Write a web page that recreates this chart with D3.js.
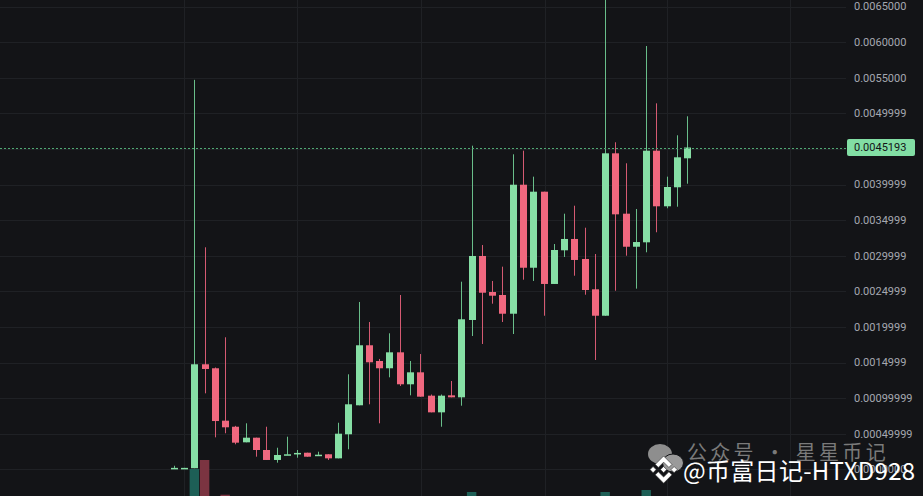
<!DOCTYPE html>
<html><head><meta charset="utf-8">
<script src="https://cdn.jsdelivr.net/npm/d3@7"></script>
<style>
html,body{margin:0;padding:0;background:#131417;overflow:hidden}
svg{display:block}
</style></head><body>
<svg id="c" width="923" height="496"></svg>
<script>
// ---- data ----
const categories = ["1","2","3","4","5","6","7","8","9","10","11","12","13","14","15","16","17","18","19","20","21","22","23","24","25","26","27","28","29","30","31","32","33","34","35","36","37","38","39","40","41","42","43","44","45","46","47","48","49","50","51"];
const open  = [0.000015,0.000018,0.000015,0.001475,0.001419,0.000683,0.000598,0.000379,0.000444,0.000271,0.000131,0.000205,0.00022,0.000233,0.000201,0.000211,0.000154,0.000492,0.000899,0.001742,0.001521,0.001419,0.001643,0.001194,0.001362,0.001034,0.0008,0.001039,0.001011,0.002097,0.002996,0.00249,0.002448,0.002185,0.003997,0.002831,0.003899,0.002603,0.003076,0.003235,0.002954,0.002528,0.002157,0.004438,0.00359,0.003126,0.003188,0.004475,0.003694,0.003961,0.004368];
const high  = [0.00005,0.00002,0.00547,0.003118,0.00143,0.001854,0.00061,0.000646,0.000444,0.000598,0.000303,0.000458,0.000271,0.000233,0.000247,0.000211,0.000654,0.001334,0.00235,0.002069,0.00155,0.00191,0.002448,0.001521,0.001619,0.00105,0.00105,0.00124,0.002635,0.004545,0.00315,0.002645,0.002846,0.004424,0.004475,0.00411,0.003899,0.003164,0.00359,0.003702,0.003393,0.003024,0.0068,0.004593,0.004298,0.003656,0.005945,0.00514,0.00411,0.004691,0.004958];
const low   = [0.000015,0.000018,0.000015,0.001067,0.000449,0.000506,0.000351,0.000379,0.000177,0.000131,0.000093,0.000205,0.000163,0.000177,0.000201,0.000131,0.000154,0.000281,0.000899,0.000913,0.000646,0.001292,0.00117,0.001039,0.00102,0.0008,0.000598,0.001011,0.000893,0.001872,0.00176,0.002326,0.002069,0.0019,0.002663,0.002645,0.002157,0.002603,0.002982,0.002719,0.002452,0.001535,0.002157,0.002508,0.003,0.002537,0.003048,0.003329,0.003666,0.003688,0.004011];
const close = [0.00002,0.00002,0.001475,0.001409,0.000678,0.00059,0.000374,0.000444,0.000271,0.000131,0.000201,0.000211,0.00023,0.000177,0.000205,0.000154,0.0005,0.000913,0.001742,0.001503,0.001419,0.001643,0.001194,0.001362,0.00102,0.0008,0.001034,0.001011,0.002107,0.002996,0.00248,0.002438,0.002185,0.003997,0.002831,0.003899,0.002603,0.00308,0.003235,0.00294,0.002518,0.002157,0.004438,0.003581,0.003126,0.003192,0.004475,0.003694,0.003965,0.004382,0.0045193];
const volume = [0,0,270,360,0,13,0,0,0,0,0,0,0,0,0,0,0,0,0,0,0,0,0,0,0,0,0,0,0,40,0,0,0,0,0,0,0,0,0,0,0,0,40,0,0,0,60,0,0,0,0];
const tickValues = [0,0.0005,0.001,0.0015,0.002,0.0025,0.003,0.0035,0.004,0.0045,0.005,0.0055,0.006,0.0065];
const tickLabels = ["0.0000000","0.00049999","0.00099999","0.0014999","0.0019999","0.0024999","0.0029999","0.0034999","0.0039999","0.0044999","0.0049999","0.0055000","0.0060000","0.0065000"];
const timeGridIdx = [1,12,24.1,36.1,48,60];
const lastPrice = 0.0045193;
const lastPriceLabel = "0.0045193";

// ---- layout ----
const W = 923, H = 496;
const plotRight = 846;
const svg = d3.select("#c");
const x = d3.scaleLinear().domain([0, categories.length - 1]).range([173.8, 687.3]);
const step = x(1) - x(0);
const y = d3.scaleLinear().domain([0, 0.0065]).range([469.3, 6.5]);
const yv = d3.scaleLinear().domain([0, 360]).range([H, 460]);

const up = "#86dfa5", down = "#f0687f";
const upWick = "#69be8a", downWick = "#d55a72";
const upVol = "#1d5f56", downVol = "#7b3441";
const grid = "#1f2125";

svg.append("rect").attr("width", W).attr("height", H).attr("fill", "#131417");

// grid
svg.append("g").selectAll("line").data(tickValues).join("line")
  .attr("x1", 0).attr("x2", plotRight)
  .attr("y1", d => Math.round(y(d)) + 0.5).attr("y2", d => Math.round(y(d)) + 0.5)
  .attr("stroke", grid).attr("stroke-width", 1);
svg.append("g").selectAll("line").data(timeGridIdx).join("line")
  .attr("x1", d => Math.round(x(d)) + 0.5).attr("x2", d => Math.round(x(d)) + 0.5)
  .attr("y1", 0).attr("y2", H)
  .attr("stroke", grid).attr("stroke-width", 1);

const data = categories.map((c, i) => ({c, i, o: open[i], h: high[i], l: low[i], cl: close[i], v: volume[i]}));

// volume
svg.append("g").selectAll("rect").data(data.filter(d => d.v > 0)).join("rect")
  .attr("x", d => x(d.i) - step * 0.46)
  .attr("width", step * 0.92)
  .attr("y", d => yv(d.v))
  .attr("height", d => H - yv(d.v))
  .attr("fill", d => d.cl >= d.o ? upVol : downVol);

// candles
const cg = svg.append("g");
cg.selectAll("line").data(data).join("line")
  .attr("x1", d => Math.round(x(d.i)) + 0.5).attr("x2", d => Math.round(x(d.i)) + 0.5)
  .attr("y1", d => y(d.h)).attr("y2", d => y(d.l))
  .attr("stroke", d => d.cl >= d.o ? upWick : downWick).attr("stroke-width", 1);
const bw = 7;
cg.selectAll("rect").data(data).join("rect")
  .attr("x", d => Math.round(x(d.i)) + 0.5 - bw / 2)
  .attr("width", bw)
  .attr("y", d => y(Math.max(d.o, d.cl)))
  .attr("height", d => Math.max(1.5, Math.abs(y(d.o) - y(d.cl))))
  .attr("fill", d => d.cl >= d.o ? up : down);

// last price line
svg.append("line")
  .attr("x1", 0).attr("x2", plotRight)
  .attr("y1", Math.round(y(lastPrice)) + 0.5).attr("y2", Math.round(y(lastPrice)) + 0.5)
  .attr("stroke", "#4fa873").attr("stroke-width", 1).attr("stroke-dasharray", "2,2");

// axis labels
svg.append("g").selectAll("text").data(tickValues).join("text")
  .attr("x", 854).attr("y", d => y(d))
  .attr("dy", "0.35em")
  .attr("font-family", "Roboto, 'Liberation Sans', sans-serif")
  .attr("font-size", 11)
  .attr("fill", "#a5a8b0")
  .text((d, i) => tickLabels[i]);

// last price label
svg.append("rect").attr("x", 847).attr("y", y(lastPrice) - 8.5).attr("width", 68).attr("height", 17)
  .attr("rx", 2).attr("fill", "#82dea4");
svg.append("text").attr("x", 854).attr("y", y(lastPrice)).attr("dy", "0.35em")
  .attr("font-family", "Roboto, 'Liberation Sans', sans-serif").attr("font-size", 11)
  .attr("fill", "#131417").text(lastPriceLabel);

// watermark
const wm = svg.append("g");
wm.append("ellipse").attr("cx", 660).attr("cy", 454).attr("rx", 12).attr("ry", 10).attr("fill", "#8e8e8e");
wm.append("ellipse").attr("cx", 673).attr("cy", 463).attr("rx", 10.5).attr("ry", 9).attr("fill", "#9a9a9a").attr("stroke", "#131417").attr("stroke-width", 1);
wm.append("text").attr("x", 687).attr("y", 460)
  .attr("font-family", "'Noto Sans CJK SC', sans-serif").attr("font-size", 20)
  .attr("letter-spacing", 3.3).attr("fill", "#7a7a7a").text("公众号 · 星星币记");
wm.append("path")
  .attr("d", "M38.73 53.2l24.59-24.58 24.6 24.6 14.3-14.31L63.32 0 24.42 38.9zM0 63.31l14.3-14.31 14.31 14.31-14.31 14.3zM38.73 73.41l24.59 24.59 24.6-24.6 14.31 14.29-38.9 38.91-38.91-38.88zM98 63.31l14.3-14.31 14.31 14.3-14.31 14.32zM77.83 63.3L63.32 48.78 52.59 59.51l-1.24 1.23-2.54 2.54 14.51 14.5 14.51-14.47z")
  .attr("transform", "translate(650,456) scale(0.215)")
  .attr("fill", "#ffffff").attr("stroke", "#333333").attr("stroke-width", 3);
wm.append("text").attr("x", 683).attr("y", 480)
  .attr("font-family", "'Noto Sans CJK SC', sans-serif").attr("font-size", 24)
  .attr("letter-spacing", 0.3)
  .attr("fill", "#ffffff").text("@币富日记-HTXD928");
</script>
</body></html>
